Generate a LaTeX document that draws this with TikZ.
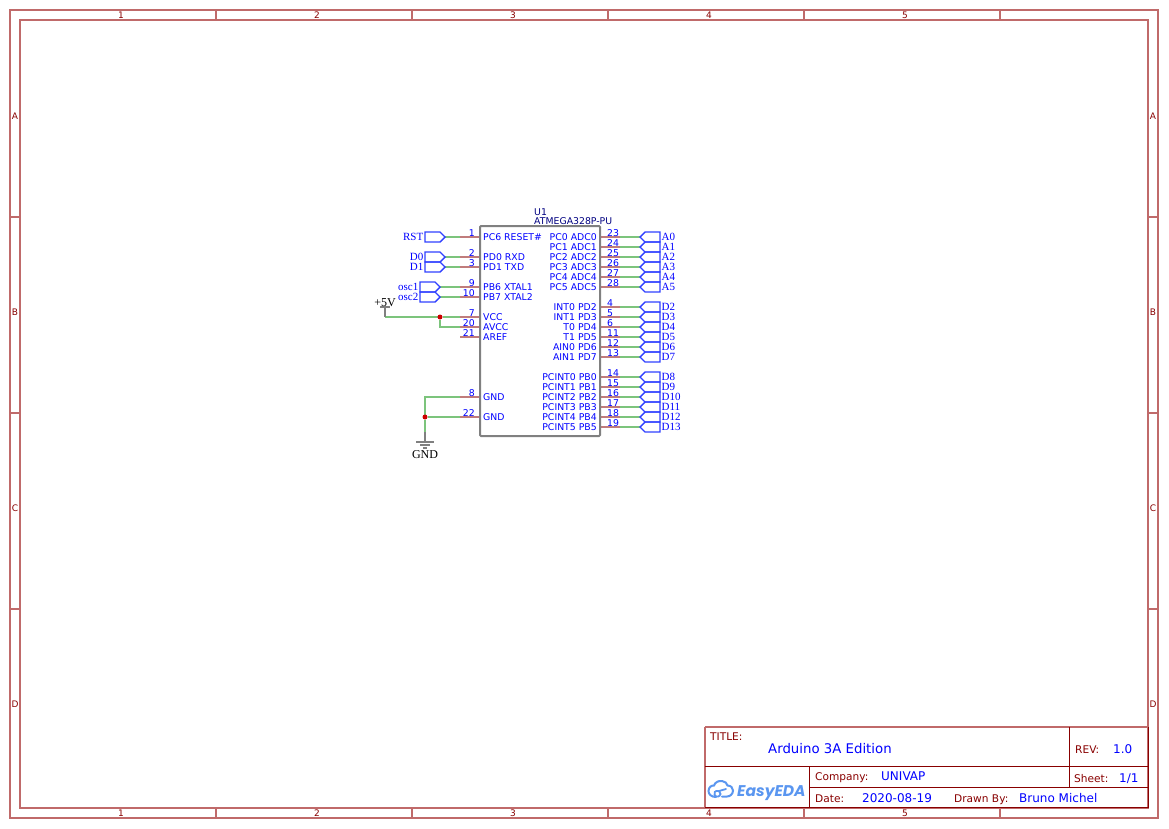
\documentclass[tikz,border=0pt]{standalone}
\usepackage{fontspec}
\setmainfont{DejaVu Sans}
\newfontfamily\flagfont{Liberation Serif}
\newfontfamily\logofont{Poppins}
\usepackage{xcolor}
\usetikzlibrary{shapes.symbols}
\definecolor{framered}{HTML}{880000}
\definecolor{framepale}{HTML}{C06A6A}
\definecolor{wiregreen}{HTML}{7CC47C}
\definecolor{pinred}{HTML}{C07C7C}
\definecolor{chipgray}{HTML}{808080}
\definecolor{flagblue}{HTML}{3040FF}
\definecolor{netblue}{HTML}{0000FF}
\definecolor{logoblue}{HTML}{5A96F0}
\pgfdeclarelayer{edgelayer}
\pgfdeclarelayer{nodelayer}
\pgfsetlayers{edgelayer,nodelayer,main}
\tikzstyle{frame}=[draw=framepale, line width=1.600]
\tikzstyle{rule}=[draw=framered, line width=1.000]
\tikzstyle{zonetext}=[text=framered, inner sep=0, font=\fontsize{9}{9}\selectfont]
\tikzstyle{titletext}=[text=framered, inner sep=0, anchor=base west, font=\fontsize{10.6}{10.6}\selectfont]
\tikzstyle{titlevalue}=[text=netblue, inner sep=0, anchor=base west, font=\fontsize{12}{12}\selectfont]
\tikzstyle{chip}=[rectangle, draw=chipgray, line width=2.000, rounded corners=1, minimum width=120, minimum height=210, outer sep=0, inner sep=0]
\tikzstyle{chiptext}=[text=blue!50!black, inner sep=0, anchor=base west, font=\fontsize{9.33}{9.33}\selectfont]
\tikzstyle{pinname}=[text=netblue, inner sep=0, font=\fontsize{9.33}{9.33}\selectfont]
\tikzstyle{pinnum}=[text=netblue, inner sep=0, yshift=1, font=\fontsize{9.33}{9.33}\selectfont]
\tikzstyle{pinline}=[draw=pinred, line width=2.000]
\tikzstyle{wire}=[draw=wiregreen, line width=2.000]
\tikzstyle{power}=[draw=chipgray, line width=2.000]
\tikzstyle{junction}=[circle, fill=red!80!black, minimum size=5, inner sep=0, outer sep=0]
\tikzstyle{flagtext}=[text=netblue, inner sep=1.5, font=\fontsize{11}{11}\selectfont\flagfont]
\tikzstyle{flag}=[signal, signal pointer angle=90, draw=flagblue, line width=1.400, minimum width=20, minimum height=10, inner sep=0, outer sep=0]
\tikzstyle{flagleft}=[flag, signal to=east, anchor=east, every label/.append style={xshift=1, yshift=-1}]
\tikzstyle{flagright}=[flag, signal to=west, anchor=west, every label/.append style={xshift=1, yshift=1}]
\tikzstyle{powertext}=[text=black, inner sep=0, anchor=base, font=\fontsize{12}{12}\selectfont\flagfont]

\begin{document}
\begin{tikzpicture}[x=1pt, y=-1pt]
    \useasboundingbox (0,0) rectangle (1169,828);
    \begin{pgfonlayer}{edgelayer}
        \draw [style=frame] (10,10) rectangle (1158,818);
        \draw [style=frame] (20,20) rectangle (1148,808);
        \draw [style=frame] (216,10) to (216,20);
        \draw [style=frame] (412,10) to (412,20);
        \draw [style=frame] (608,10) to (608,20);
        \draw [style=frame] (804,10) to (804,20);
        \draw [style=frame] (1000,10) to (1000,20);
        \draw [style=frame] (216,808) to (216,818);
        \draw [style=frame] (412,808) to (412,818);
        \draw [style=frame] (608,808) to (608,818);
        \draw [style=frame] (804,808) to (804,818);
        \draw [style=frame] (1000,808) to (1000,818);
        \draw [style=frame] (10,217) to (20,217);
        \draw [style=frame] (10,413) to (20,413);
        \draw [style=frame] (10,609) to (20,609);
        \draw [style=frame] (1148,217) to (1158,217);
        \draw [style=frame] (1148,413) to (1158,413);
        \draw [style=frame] (1148,609) to (1158,609);
        \draw [style=frame] (705,727) to (1148.5,727);
        \draw [style=frame] (705,727) to (705,807.5);
        \draw [style=rule] (1148.5,727) to (1148.5,807.5);
        \draw [style=rule] (705,807.5) to (1148.5,807.5);
        \draw [style=rule] (705,766.5) to (1148.5,766.5);
        \draw [style=rule] (809.5,787.5) to (1148.5,787.5);
        \draw [style=rule] (809.5,766.5) to (809.5,807.5);
        \draw [style=rule] (1069.5,727) to (1069.5,787.5);
        \draw [draw=logoblue, line width=2.000, line cap=round] (716,797) .. controls (711,797) and (708.5,794) .. (708.5,791) .. controls (708.5,787) and (712,785) .. (714,785.5) .. controls (715,782) and (719,780.5) .. (722,781) .. controls (725,781.5) and (727,783) .. (727.5,785.5) .. controls (731,785.5) and (733,788) .. (733,790.5) .. controls (733,794) and (730,796.5) .. (727,796.5) to (722,796.5);
        \draw [draw=logoblue, line width=1.800, line cap=round] (726,789) to (719,791) .. controls (715,790) and (713.5,793) .. (714.5,795) .. controls (716,797.5) and (720,797) .. (720.5,794) to (719,791);
    \end{pgfonlayer}
    \begin{pgfonlayer}{nodelayer}
        \node [style=zonetext] (top1) at (121,15) {1};
        \node [style=zonetext] (top2) at (317,15) {2};
        \node [style=zonetext] (top3) at (513,15) {3};
        \node [style=zonetext] (top4) at (709,15) {4};
        \node [style=zonetext] (top5) at (905,15) {5};
        \node [style=zonetext] (bot1) at (121,813) {1};
        \node [style=zonetext] (bot2) at (317,813) {2};
        \node [style=zonetext] (bot3) at (513,813) {3};
        \node [style=zonetext] (bot4) at (709,813) {4};
        \node [style=zonetext] (bot5) at (905,813) {5};
        \node [style=zonetext] (leftA) at (15,116) {A};
        \node [style=zonetext] (leftB) at (15,312) {B};
        \node [style=zonetext] (leftC) at (15,508) {C};
        \node [style=zonetext] (leftD) at (15,704) {D};
        \node [style=zonetext] (rightA) at (1153,116) {A};
        \node [style=zonetext] (rightB) at (1153,312) {B};
        \node [style=zonetext] (rightC) at (1153,508) {C};
        \node [style=zonetext] (rightD) at (1153,704) {D};

        \node [style=titletext] (titlekey) at (710,740) {TITLE:};
        \node [style=titlevalue, font=\fontsize{13.3}{13.3}\selectfont] (titleval) at (768,753) {Arduino 3A Edition};
        \node [style=titletext] (revkey) at (1075,753) {REV:};
        \node [style=titlevalue] (revval) at (1113,753) {1.0};
        \node [style=titletext] (sheetkey) at (1074,782) {Sheet:};
        \node [style=titlevalue] (sheetval) at (1119,782) {1/1};
        \node [style=titletext] (companykey) at (815,780) {Company:};
        \node [style=titlevalue] (companyval) at (881,780.5) {UNIVAP};
        \node [style=titletext] (datekey) at (815,802) {Date:};
        \node [style=titlevalue] (dateval) at (862,802) {2020-08-19};
        \node [style=titletext] (drawnkey) at (954,802) {Drawn By:};
        \node [style=titlevalue] (drawnval) at (1019,802) {Bruno Michel};
        \node [text=logoblue, inner sep=0, anchor=base west, font=\fontsize{15.5}{15.5}\selectfont\logofont\itshape\bfseries] (logo) at (737,796.5) {EasyEDA};

        \node [style=chip] (U1) at (540,331) {};
        \node [style=chiptext] (U1ref) at (534,215) {U1};
        \node [style=chiptext] (U1val) at (534,224) {ATMEGA328P-PU};

        % left side pins
        \node [style=pinname, anchor=base west] (pc6) at (483,240) {PC6 RESET\#};
        \node [style=pinnum, anchor=base east] (n1) at (475,237) {1};
        \coordinate (a1) at (480,237);
        \coordinate (b1) at (460,237);
        \node [style=flagleft, label={[style=flagtext]west:RST}] (RST) at (445,237) {};

        \node [style=pinname, anchor=base west] (pd0) at (483,260) {PD0 RXD};
        \node [style=pinnum, anchor=base east] (n2) at (475,257) {2};
        \coordinate (a2) at (480,257);
        \coordinate (b2) at (460,257);
        \node [style=flagleft, label={[style=flagtext]west:D0}] (D0) at (445,257) {};

        \node [style=pinname, anchor=base west] (pd1) at (483,270) {PD1 TXD};
        \node [style=pinnum, anchor=base east] (n3) at (475,267) {3};
        \coordinate (a3) at (480,267);
        \coordinate (b3) at (460,267);
        \node [style=flagleft, label={[style=flagtext]west:D1}] (D1) at (445,267) {};

        \node [style=pinname, anchor=base west] (pb6) at (483,290) {PB6 XTAL1};
        \node [style=pinnum, anchor=base east] (n9) at (475,287) {9};
        \coordinate (a9) at (480,287);
        \coordinate (b9) at (460,287);
        \node [style=flagleft, label={[style=flagtext]west:osc1}] (osc1) at (440,287) {};

        \node [style=pinname, anchor=base west] (pb7) at (483,300) {PB7 XTAL2};
        \node [style=pinnum, anchor=base east] (n10) at (475,297) {10};
        \coordinate (a10) at (480,297);
        \coordinate (b10) at (460,297);
        \node [style=flagleft, label={[style=flagtext]west:osc2}] (osc2) at (440,297) {};

        \node [style=pinname, anchor=base west] (vcc) at (483,320) {VCC};
        \node [style=pinnum, anchor=base east] (n7) at (475,317) {7};
        \coordinate (a7) at (480,317);
        \coordinate (b7) at (460,317);

        \node [style=pinname, anchor=base west] (avcc) at (483,330) {AVCC};
        \node [style=pinnum, anchor=base east] (n20) at (475,327) {20};
        \coordinate (a20) at (480,327);
        \coordinate (b20) at (460,327);

        \node [style=pinname, anchor=base west] (aref) at (483,340) {AREF};
        \node [style=pinnum, anchor=base east] (n21) at (475,337) {21};
        \coordinate (a21) at (480,337);
        \coordinate (b21) at (460,337);

        \node [style=pinname, anchor=base west] (gnd1) at (483,400) {GND};
        \node [style=pinnum, anchor=base east] (n8) at (475,397) {8};
        \coordinate (a8) at (480,397);
        \coordinate (b8) at (460,397);

        \node [style=pinname, anchor=base west] (gnd2) at (483,420) {GND};
        \node [style=pinnum, anchor=base east] (n22) at (475,417) {22};
        \coordinate (a22) at (480,417);
        \coordinate (b22) at (460,417);

        % supply and ground
        \node [style=powertext] (plus5) at (385,306) {+5V};
        \coordinate (vtop) at (385,307);
        \coordinate (vbar1) at (380,307);
        \coordinate (vbar2) at (390,307);
        \coordinate (vcorner) at (385,317);
        \node [style=junction] (jvcc) at (440,317) {};
        \coordinate (avcorner) at (440,327);
        \coordinate (gcorner) at (425,397);
        \node [style=junction] (jgnd) at (425,417) {};
        \coordinate (gstub) at (425,432);
        \coordinate (gtop) at (425,442);
        \coordinate (g1a) at (416,442);
        \coordinate (g1b) at (434,442);
        \coordinate (g2a) at (420,445);
        \coordinate (g2b) at (430,445);
        \coordinate (g3a) at (423,448);
        \coordinate (g3b) at (427,448);
        \node [style=powertext] (gndtext) at (425,458) {GND};

        % port C
        \node [style=pinname, anchor=base east] (pc0) at (597,240) {PC0 ADC0};
        \node [style=pinnum, anchor=base west] (n23) at (607,237) {23};
        \coordinate (a23) at (600,237);
        \coordinate (b23) at (620,237);
        \node [style=flagright, label={[style=flagtext]east:A0}] (A0) at (640,237) {};

        \node [style=pinname, anchor=base east] (pc1) at (597,250) {PC1 ADC1};
        \node [style=pinnum, anchor=base west] (n24) at (607,247) {24};
        \coordinate (a24) at (600,247);
        \coordinate (b24) at (620,247);
        \node [style=flagright, label={[style=flagtext]east:A1}] (A1) at (640,247) {};

        \node [style=pinname, anchor=base east] (pc2) at (597,260) {PC2 ADC2};
        \node [style=pinnum, anchor=base west] (n25) at (607,257) {25};
        \coordinate (a25) at (600,257);
        \coordinate (b25) at (620,257);
        \node [style=flagright, label={[style=flagtext]east:A2}] (A2) at (640,257) {};

        \node [style=pinname, anchor=base east] (pc3) at (597,270) {PC3 ADC3};
        \node [style=pinnum, anchor=base west] (n26) at (607,267) {26};
        \coordinate (a26) at (600,267);
        \coordinate (b26) at (620,267);
        \node [style=flagright, label={[style=flagtext]east:A3}] (A3) at (640,267) {};

        \node [style=pinname, anchor=base east] (pc4) at (597,280) {PC4 ADC4};
        \node [style=pinnum, anchor=base west] (n27) at (607,277) {27};
        \coordinate (a27) at (600,277);
        \coordinate (b27) at (620,277);
        \node [style=flagright, label={[style=flagtext]east:A4}] (A4) at (640,277) {};

        \node [style=pinname, anchor=base east] (pc5) at (597,290) {PC5 ADC5};
        \node [style=pinnum, anchor=base west] (n28) at (607,287) {28};
        \coordinate (a28) at (600,287);
        \coordinate (b28) at (620,287);
        \node [style=flagright, label={[style=flagtext]east:A5}] (A5) at (640,287) {};

        % port D
        \node [style=pinname, anchor=base east] (pd2) at (597,310) {INT0 PD2};
        \node [style=pinnum, anchor=base west] (n4) at (607,307) {4};
        \coordinate (a4) at (600,307);
        \coordinate (b4) at (620,307);
        \node [style=flagright, label={[style=flagtext]east:D2}] (D2) at (640,307) {};

        \node [style=pinname, anchor=base east] (pd3) at (597,320) {INT1 PD3};
        \node [style=pinnum, anchor=base west] (n5) at (607,317) {5};
        \coordinate (a5) at (600,317);
        \coordinate (b5) at (620,317);
        \node [style=flagright, label={[style=flagtext]east:D3}] (D3) at (640,317) {};

        \node [style=pinname, anchor=base east] (pd4) at (597,330) {T0 PD4};
        \node [style=pinnum, anchor=base west] (n6) at (607,327) {6};
        \coordinate (a6) at (600,327);
        \coordinate (b6) at (620,327);
        \node [style=flagright, label={[style=flagtext]east:D4}] (D4) at (640,327) {};

        \node [style=pinname, anchor=base east] (pd5) at (597,340) {T1 PD5};
        \node [style=pinnum, anchor=base west] (n11) at (607,337) {11};
        \coordinate (a11) at (600,337);
        \coordinate (b11) at (620,337);
        \node [style=flagright, label={[style=flagtext]east:D5}] (D5) at (640,337) {};

        \node [style=pinname, anchor=base east] (pd6) at (597,350) {AIN0 PD6};
        \node [style=pinnum, anchor=base west] (n12) at (607,347) {12};
        \coordinate (a12) at (600,347);
        \coordinate (b12) at (620,347);
        \node [style=flagright, label={[style=flagtext]east:D6}] (D6) at (640,347) {};

        \node [style=pinname, anchor=base east] (pd7) at (597,360) {AIN1 PD7};
        \node [style=pinnum, anchor=base west] (n13) at (607,357) {13};
        \coordinate (a13) at (600,357);
        \coordinate (b13) at (620,357);
        \node [style=flagright, label={[style=flagtext]east:D7}] (D7) at (640,357) {};

        % port B
        \node [style=pinname, anchor=base east] (pb0) at (597,380) {PCINT0 PB0};
        \node [style=pinnum, anchor=base west] (n14) at (607,377) {14};
        \coordinate (a14) at (600,377);
        \coordinate (b14) at (620,377);
        \node [style=flagright, label={[style=flagtext]east:D8}] (D8) at (640,377) {};

        \node [style=pinname, anchor=base east] (pb1) at (597,390) {PCINT1 PB1};
        \node [style=pinnum, anchor=base west] (n15) at (607,387) {15};
        \coordinate (a15) at (600,387);
        \coordinate (b15) at (620,387);
        \node [style=flagright, label={[style=flagtext]east:D9}] (D9) at (640,387) {};

        \node [style=pinname, anchor=base east] (pb2) at (597,400) {PCINT2 PB2};
        \node [style=pinnum, anchor=base west] (n16) at (607,397) {16};
        \coordinate (a16) at (600,397);
        \coordinate (b16) at (620,397);
        \node [style=flagright, label={[style=flagtext]east:D10}] (D10) at (640,397) {};

        \node [style=pinname, anchor=base east] (pb3) at (597,410) {PCINT3 PB3};
        \node [style=pinnum, anchor=base west] (n17) at (607,407) {17};
        \coordinate (a17) at (600,407);
        \coordinate (b17) at (620,407);
        \node [style=flagright, label={[style=flagtext]east:D11}] (D11) at (640,407) {};

        \node [style=pinname, anchor=base east] (pb4) at (597,420) {PCINT4 PB4};
        \node [style=pinnum, anchor=base west] (n18) at (607,417) {18};
        \coordinate (a18) at (600,417);
        \coordinate (b18) at (620,417);
        \node [style=flagright, label={[style=flagtext]east:D12}] (D12) at (640,417) {};

        \node [style=pinname, anchor=base east] (pb5) at (597,430) {PCINT5 PB5};
        \node [style=pinnum, anchor=base west] (n19) at (607,427) {19};
        \coordinate (a19) at (600,427);
        \coordinate (b19) at (620,427);
        \node [style=flagright, label={[style=flagtext]east:D13}] (D13) at (640,427) {};
    \end{pgfonlayer}
    \begin{pgfonlayer}{edgelayer}
        \draw [style=wire] (RST.east) to (b1);
        \draw [style=wire] (D0.east) to (b2);
        \draw [style=wire] (D1.east) to (b3);
        \draw [style=wire] (osc1.east) to (b9);
        \draw [style=wire] (osc2.east) to (b10);
        \draw [style=wire] (vcorner) to (jvcc);
        \draw [style=wire] (jvcc) to (b7);
        \draw [style=wire] (jvcc) to (avcorner) to (b20);
        \draw [style=wire] (b8) to (gcorner) to (jgnd);
        \draw [style=wire] (jgnd) to (b22);
        \draw [style=wire] (jgnd) to (gstub);
        \draw [style=power] (vtop) to (vcorner);
        \draw [style=power] (vbar1) to (vbar2);
        \draw [style=power] (gstub) to (gtop);
        \draw [style=power, line width=1.500] (g1a) to (g1b);
        \draw [style=power, line width=1.500] (g2a) to (g2b);
        \draw [style=power, line width=1.500] (g3a) to (g3b);

        \draw [style=pinline] (a1) to (b1);
        \draw [style=pinline] (a2) to (b2);
        \draw [style=pinline] (a3) to (b3);
        \draw [style=pinline] (a9) to (b9);
        \draw [style=pinline] (a10) to (b10);
        \draw [style=pinline] (a7) to (b7);
        \draw [style=pinline] (a20) to (b20);
        \draw [style=pinline] (a21) to (b21);
        \draw [style=pinline] (a8) to (b8);
        \draw [style=pinline] (a22) to (b22);

        \draw [style=pinline] (a23) to (b23);
        \draw [style=pinline] (a24) to (b24);
        \draw [style=pinline] (a25) to (b25);
        \draw [style=pinline] (a26) to (b26);
        \draw [style=pinline] (a27) to (b27);
        \draw [style=pinline] (a28) to (b28);
        \draw [style=pinline] (a4) to (b4);
        \draw [style=pinline] (a5) to (b5);
        \draw [style=pinline] (a6) to (b6);
        \draw [style=pinline] (a11) to (b11);
        \draw [style=pinline] (a12) to (b12);
        \draw [style=pinline] (a13) to (b13);
        \draw [style=pinline] (a14) to (b14);
        \draw [style=pinline] (a15) to (b15);
        \draw [style=pinline] (a16) to (b16);
        \draw [style=pinline] (a17) to (b17);
        \draw [style=pinline] (a18) to (b18);
        \draw [style=pinline] (a19) to (b19);

        \draw [style=wire] (b23) to (A0.west);
        \draw [style=wire] (b24) to (A1.west);
        \draw [style=wire] (b25) to (A2.west);
        \draw [style=wire] (b26) to (A3.west);
        \draw [style=wire] (b27) to (A4.west);
        \draw [style=wire] (b28) to (A5.west);
        \draw [style=wire] (b4) to (D2.west);
        \draw [style=wire] (b5) to (D3.west);
        \draw [style=wire] (b6) to (D4.west);
        \draw [style=wire] (b11) to (D5.west);
        \draw [style=wire] (b12) to (D6.west);
        \draw [style=wire] (b13) to (D7.west);
        \draw [style=wire] (b14) to (D8.west);
        \draw [style=wire] (b15) to (D9.west);
        \draw [style=wire] (b16) to (D10.west);
        \draw [style=wire] (b17) to (D11.west);
        \draw [style=wire] (b18) to (D12.west);
        \draw [style=wire] (b19) to (D13.west);
    \end{pgfonlayer}
\end{tikzpicture}
\end{document}
